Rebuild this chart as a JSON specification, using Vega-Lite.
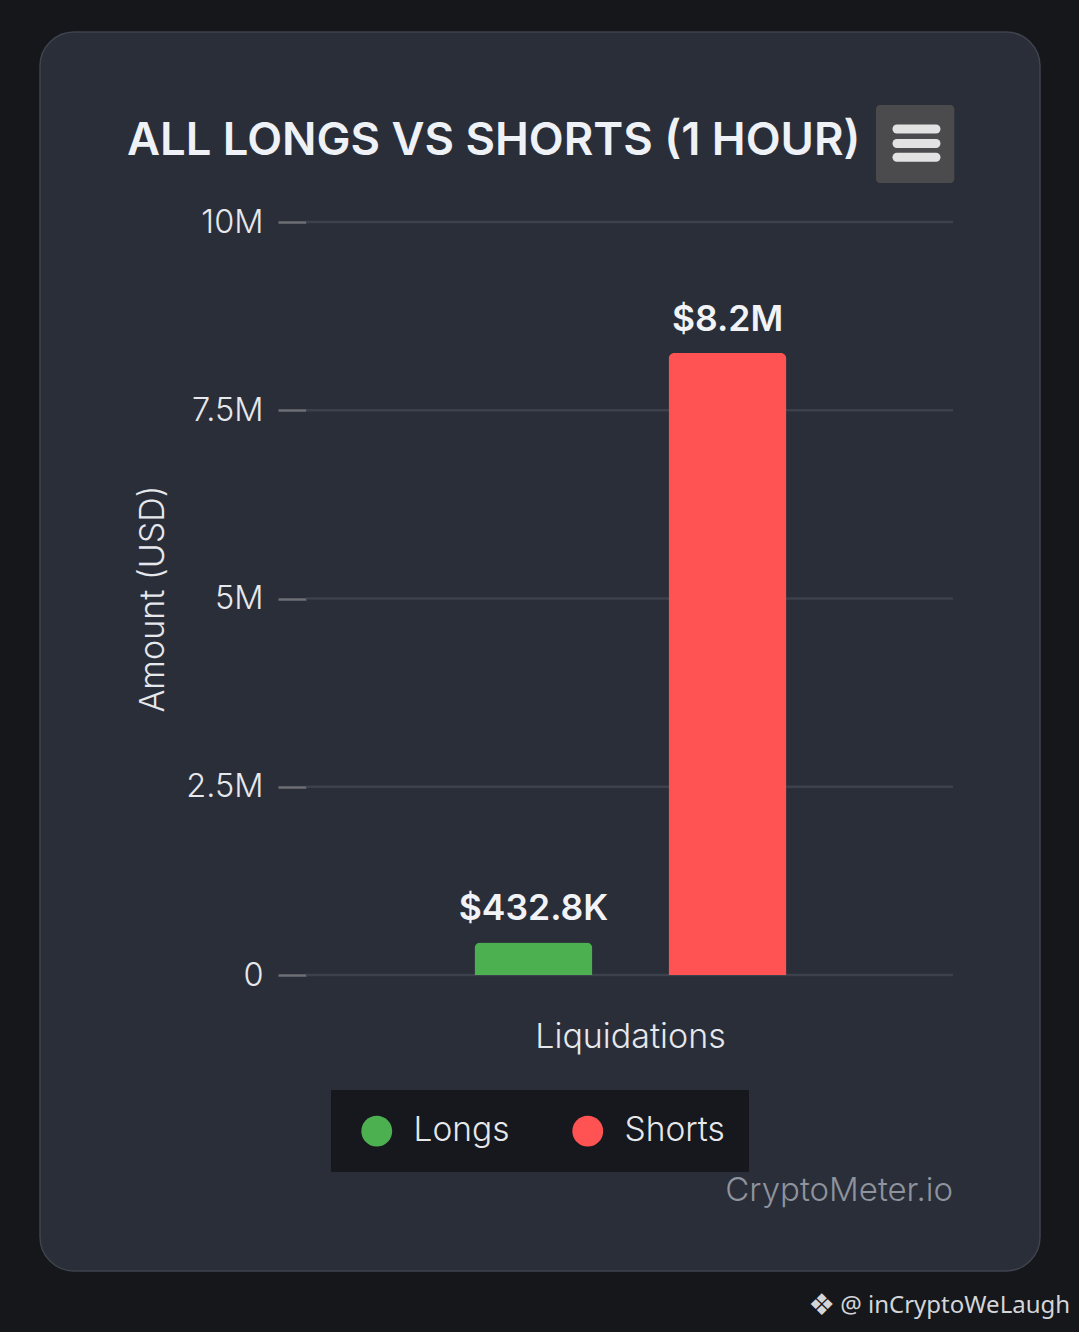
{
  "$schema": "https://vega.github.io/schema/vega-lite/v6.json",
  "autosize": "none",
  "width": 1000,
  "height": 1239,
  "padding": {"left": 40, "top": 32, "right": 39, "bottom": 61},
  "background": "#15171b",
  "view": {"fill": "#2a2e39", "stroke": "#3f434d", "strokeWidth": 1.5, "cornerRadius": 34},
  "config": {"font": "Inter"},
  "title": {
    "text": "ALL LONGS VS SHORTS (1 HOUR)",
    "anchor": "start",
    "frame": "group",
    "dx": 87,
    "dy": 136,
    "font": "Inter",
    "fontSize": 45.4,
    "fontWeight": 600,
    "color": "#eef1f6"
  },
  "datasets": {
    "bars": [
      {"group": "Liquidations", "side": "Longs", "amount": 432800, "label": "$432.8K"},
      {"group": "Liquidations", "side": "Shorts", "amount": 8260000, "label": "$8.2M"}
    ],
    "ticks": [
      {"tick": 0},
      {"tick": 2500000},
      {"tick": 5000000},
      {"tick": 7500000},
      {"tick": 10000000}
    ],
    "blank": [{}]
  },
  "resolve": {"scale": {"x": "independent"}},
  "layer": [
    {
      "data": {"name": "ticks"},
      "mark": {"type": "rule", "color": "#3d414c", "strokeWidth": 2.5},
      "encoding": {
        "x": {"datum": 0, "type": "quantitative", "scale": {"domain": [0, 1], "range": [266, 913]}, "axis": null},
        "x2": {"datum": 1},
        "y": {
          "field": "tick",
          "type": "quantitative",
          "scale": {"domain": [0, 10000000], "range": [943, 190], "nice": false},
          "axis": {
            "orient": "left",
            "offset": -266,
            "values": [0, 2500000, 5000000, 7500000, 10000000],
            "labelExpr": "datum.value == 0 ? '0' : datum.value / 1000000 + 'M'",
            "grid": false,
            "domain": false,
            "tickSize": 28,
            "tickWidth": 2.5,
            "tickColor": "#6d6f74",
            "labelPadding": 15,
            "labelFontSize": 32.5,
            "labelFontWeight": 300,
            "labelColor": "#e6e8ec",
            "title": "Amount (USD)",
            "titleFontSize": 34,
            "titleFontWeight": 300,
            "titleColor": "#e6e8ec",
            "titlePadding": 15
          }
        }
      }
    },
    {
      "data": {"name": "bars"},
      "mark": {"type": "bar", "cornerRadiusTopLeft": 6, "cornerRadiusTopRight": 6},
      "encoding": {
        "x": {
          "field": "group",
          "type": "nominal",
          "scale": {"range": [267, 914], "paddingInner": 0, "paddingOuter": 0},
          "axis": {
            "orient": "bottom",
            "offset": -296,
            "domain": false,
            "ticks": false,
            "title": null,
            "labelAngle": 0,
            "labelLimit": 0,
            "labelPadding": 45,
            "labelFontSize": 34,
            "labelFontWeight": 300,
            "labelColor": "#e6e8ec"
          }
        },
        "xOffset": {
          "field": "side",
          "type": "nominal",
          "scale": {"domain": ["Longs", "Shorts"], "paddingInner": 0.392, "paddingOuter": 0.863}
        },
        "y": {"field": "amount", "type": "quantitative"},
        "color": {
          "field": "side",
          "type": "nominal",
          "scale": {"domain": ["Longs", "Shorts"], "range": ["#4caf50", "#ff5252"]},
          "legend": {
            "orient": "none",
            "legendX": 291,
            "legendY": 1058,
            "direction": "horizontal",
            "columns": 2,
            "title": null,
            "fillColor": "#16181d",
            "padding": 24,
            "symbolType": "circle",
            "symbolSize": 950,
            "symbolOffset": 5,
            "symbolStrokeWidth": 0,
            "labelFontSize": 33.5,
            "labelFontWeight": 300,
            "labelColor": "#e6e8ec",
            "labelOffset": 20,
            "columnPadding": 56
          }
        }
      }
    },
    {
      "data": {"name": "bars"},
      "mark": {"type": "text", "baseline": "bottom", "dy": -15, "fontSize": 35.5, "fontWeight": 600, "color": "#f1f3f6"},
      "encoding": {
        "x": {
          "field": "group",
          "type": "nominal",
          "scale": {"range": [267, 914], "paddingInner": 0, "paddingOuter": 0},
          "axis": null
        },
        "xOffset": {
          "field": "side",
          "type": "nominal",
          "scale": {"domain": ["Longs", "Shorts"], "paddingInner": 0.392, "paddingOuter": 0.863}
        },
        "y": {"field": "amount", "type": "quantitative"},
        "text": {"field": "label"}
      }
    },
    {
      "data": {"name": "blank"},
      "mark": {"type": "rect", "color": "#4b4b4e", "cornerRadius": 4},
      "encoding": {
        "x": {"datum": 0.881, "type": "quantitative", "scale": {"domain": [0, 1], "range": [266, 913]}, "axis": null},
        "x2": {"datum": 1.002},
        "y": {"datum": 11554000, "type": "quantitative"},
        "y2": {"datum": 10518000}
      }
    },
    {
      "data": {"name": "blank"},
      "mark": {"type": "rule", "color": "#e2e2e2", "strokeWidth": 9, "strokeCap": "round"},
      "encoding": {
        "x": {"datum": 0.9134, "type": "quantitative", "scale": {"domain": [0, 1], "range": [266, 913]}, "axis": null},
        "x2": {"datum": 0.9737},
        "y": {"datum": 11235000, "type": "quantitative"}
      }
    },
    {
      "data": {"name": "blank"},
      "mark": {"type": "rule", "color": "#e2e2e2", "strokeWidth": 9, "strokeCap": "round"},
      "encoding": {
        "x": {"datum": 0.9134, "type": "quantitative", "scale": {"domain": [0, 1], "range": [266, 913]}, "axis": null},
        "x2": {"datum": 0.9737},
        "y": {"datum": 11042000, "type": "quantitative"}
      }
    },
    {
      "data": {"name": "blank"},
      "mark": {"type": "rule", "color": "#e2e2e2", "strokeWidth": 9, "strokeCap": "round"},
      "encoding": {
        "x": {"datum": 0.9134, "type": "quantitative", "scale": {"domain": [0, 1], "range": [266, 913]}, "axis": null},
        "x2": {"datum": 0.9737},
        "y": {"datum": 10860000, "type": "quantitative"}
      }
    },
    {
      "data": {"values": [{"note": "CryptoMeter.io"}]},
      "mark": {"type": "text", "align": "right", "baseline": "middle", "fontSize": 33, "fontWeight": 300, "color": "#8f939d"},
      "encoding": {
        "x": {"datum": 1, "type": "quantitative", "scale": {"domain": [0, 1], "range": [266, 913]}, "axis": null},
        "y": {"datum": -2870000, "type": "quantitative"},
        "text": {"field": "note"}
      }
    },
    {
      "data": {"values": [{"note": "@ inCryptoWeLaugh"}]},
      "mark": {"type": "text", "align": "right", "baseline": "middle", "font": "Noto Sans", "fontSize": 24, "color": "#d4d5d8"},
      "encoding": {
        "x": {"datum": 1.181, "type": "quantitative", "scale": {"domain": [0, 1], "range": [266, 913]}, "axis": null},
        "y": {"datum": -4400000, "type": "quantitative"},
        "text": {"field": "note"}
      }
    },
    {
      "data": {"values": [{"note": "❖"}]},
      "mark": {"type": "text", "align": "center", "baseline": "middle", "font": "DejaVu Sans", "fontSize": 30, "color": "#d4d5d8"},
      "encoding": {
        "x": {"datum": 0.797, "type": "quantitative", "scale": {"domain": [0, 1], "range": [266, 913]}, "axis": null},
        "y": {"datum": -4400000, "type": "quantitative"},
        "text": {"field": "note"}
      }
    }
  ]
}
